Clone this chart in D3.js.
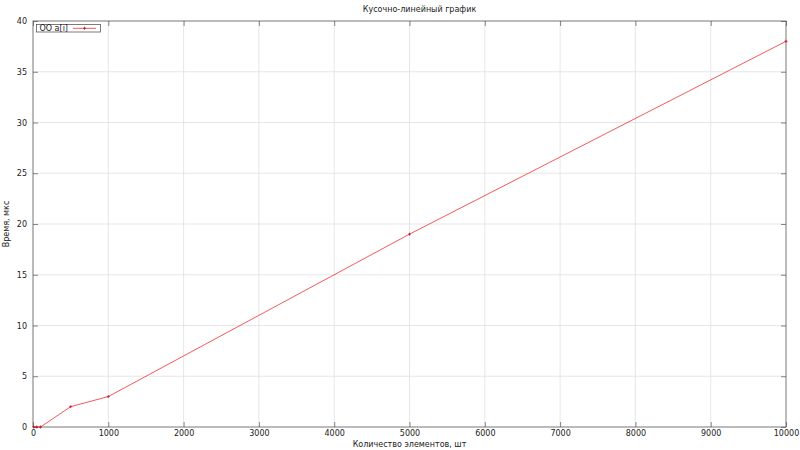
<!DOCTYPE html>
<html>
<head>
<meta charset="utf-8">
<script src="https://cdn.jsdelivr.net/npm/d3@7"></script>
<style>
body { margin: 0; background: #fff; }
text { font-family: "DejaVu Sans", sans-serif; font-size: 8px; fill: #222; }
</style>
</head>
<body>
<svg width="800" height="450"></svg>
<script>
const sizes = [10, 50, 100, 500, 1000, 5000, 10000];
const times = [0, 0, 0, 2, 3, 19, 38];
const xTicks = [0, 1000, 2000, 3000, 4000, 5000, 6000, 7000, 8000, 9000, 10000];
const yTicks = [0, 5, 10, 15, 20, 25, 30, 35, 40];

const svg = d3.select('svg');
const plotLeft = 33, plotRight = 786, plotTop = 21, plotBottom = 427;

const x = d3.scaleLinear().domain([0, 10000]).range([plotLeft, plotRight]);
const y = d3.scaleLinear().domain([0, 40]).range([plotBottom, plotTop]);

// grid
const grid = svg.append('g')
    .attr('stroke', '#dcdcdc')
    .attr('stroke-width', 0.7);
grid.selectAll('.gx').data(xTicks.slice(1, -1)).join('line')
    .attr('x1', d => x(d)).attr('x2', d => x(d))
    .attr('y1', plotTop).attr('y2', plotBottom);
grid.selectAll('.gy').data(yTicks.slice(1, -1)).join('line')
    .attr('y1', d => y(d)).attr('y2', d => y(d))
    .attr('x1', plotLeft).attr('x2', plotRight);

// axes (ticks mirrored, gnuplot style)
const bottomAxis = svg.append('g')
    .attr('transform', `translate(0,${plotBottom})`)
    .call(d3.axisBottom(x).tickValues(xTicks).tickSize(-5).tickPadding(3).tickFormat(d3.format('d')));
const leftAxis = svg.append('g')
    .attr('transform', `translate(${plotLeft},0)`)
    .call(d3.axisLeft(y).tickValues(yTicks).tickSize(-5).tickPadding(6));
const topAxis = svg.append('g')
    .attr('transform', `translate(0,${plotTop})`)
    .call(d3.axisTop(x).tickValues(xTicks).tickSize(-5).tickFormat(''));
const rightAxis = svg.append('g')
    .attr('transform', `translate(${plotRight},0)`)
    .call(d3.axisRight(y).tickValues(yTicks).tickSize(-5).tickFormat(''));

[bottomAxis, leftAxis, topAxis, rightAxis].forEach(a => {
  a.select('.domain').remove();
  a.selectAll('line').attr('stroke', '#555').attr('stroke-width', 0.7);
  a.selectAll('text').attr('font-size', 8).attr('fill', '#222')
    .attr('font-family', '"DejaVu Sans", sans-serif');
});

svg.append('rect')
    .attr('x', plotLeft).attr('y', plotTop)
    .attr('width', plotRight - plotLeft).attr('height', plotBottom - plotTop)
    .attr('fill', 'none').attr('stroke', '#555').attr('stroke-width', 0.8);

// data line
const pts = sizes.map((s, i) => [s, times[i]]);
svg.append('path')
    .datum(pts)
    .attr('fill', 'none')
    .attr('stroke', '#f03030')
    .attr('stroke-width', 0.8)
    .attr('d', d3.line().x(d => x(d[0])).y(d => y(d[1])));

const cross = 1.5;
svg.append('g').selectAll('path').data(pts).join('path')
    .attr('stroke', '#c0102a')
    .attr('stroke-width', 0.8)
    .attr('d', d => `M${x(d[0]) - cross},${y(d[1])}h${2 * cross}M${x(d[0])},${y(d[1]) - cross}v${2 * cross}`);

// legend
svg.append('rect')
    .attr('x', 36.5).attr('y', 24.5).attr('width', 64).attr('height', 7.5)
    .attr('fill', '#fff').attr('stroke', '#444').attr('stroke-width', 0.7);
svg.append('text')
    .attr('x', 68).attr('y', 30.8)
    .attr('text-anchor', 'end')
    .attr('font-size', 7)
    .text('OO a[i]');
svg.append('line')
    .attr('x1', 73).attr('x2', 96).attr('y1', 28.3).attr('y2', 28.3)
    .attr('stroke', '#f03030').attr('stroke-width', 0.8);
svg.append('path')
    .attr('d', `M${84.5 - cross},28.3h${2 * cross}M84.5,${28.3 - cross}v${2 * cross}`)
    .attr('stroke', '#c0102a').attr('stroke-width', 0.8);

// labels
svg.append('text')
    .attr('x', (plotLeft + plotRight) / 2 + 10).attr('y', 12)
    .attr('text-anchor', 'middle')
    .text('Кусочно-линейный график');
svg.append('text')
    .attr('x', (plotLeft + plotRight) / 2).attr('y', 447)
    .attr('text-anchor', 'middle')
    .text('Количество элементов, шт');
svg.append('text')
    .attr('transform', `translate(9,${(plotTop + plotBottom) / 2}) rotate(-90)`)
    .attr('text-anchor', 'middle')
    .text('Время, мкс');
</script>
</body>
</html>
